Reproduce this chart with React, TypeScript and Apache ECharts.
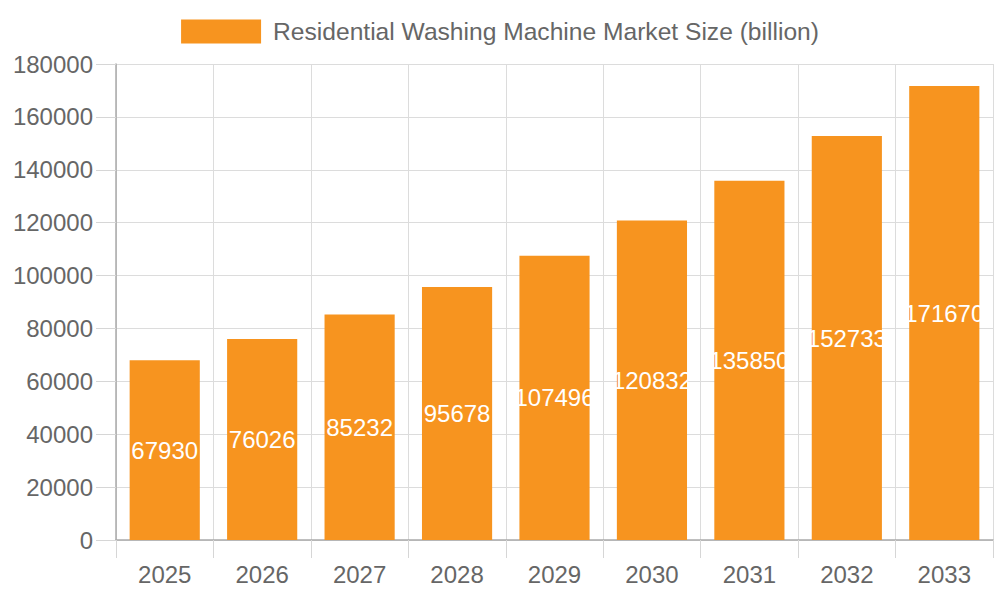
import { useEffect, useRef } from "react";
import * as echarts from "echarts";

const years = ["2025", "2026", "2027", "2028", "2029", "2030", "2031", "2032", "2033"];
const marketSize = [67930, 76026, 85232, 95678, 107496, 120832, 135850, 152733, 171670];
const seriesName = "Residential Washing Machine Market Size (billion)";

const font = "'Liberation Sans', Arial, Helvetica, sans-serif";

export default function App() {
  const ref = useRef<HTMLDivElement>(null);

  useEffect(() => {
    if (!ref.current) return;
    const chart = echarts.init(ref.current, undefined, { renderer: "svg" });
    chart.setOption({
      animation: false,
      textStyle: { fontFamily: font },
      legend: {
        data: [seriesName],
        top: 14,
        left: "center",
        icon: "rect",
        itemWidth: 80,
        itemHeight: 24,
        itemGap: 12,
        textStyle: {
          color: "#666",
          fontSize: 24.6,
          fontFamily: font,
          padding: [0, 0, 0, 7],
        },
      },
      grid: { left: 116, right: 7, top: 64, bottom: 60 },
      xAxis: {
        type: "category",
        data: years,
        axisLine: { show: true, lineStyle: { color: "#aaa", width: 1.5 } },
        axisTick: { show: true, length: 18, lineStyle: { color: "#d6d6d6" } },
        splitLine: { show: true, lineStyle: { color: "#dcdcdc" } },
        axisLabel: { color: "#666", fontSize: 24, margin: 22, fontFamily: font },
      },
      yAxis: {
        type: "value",
        min: 0,
        max: 180000,
        interval: 20000,
        axisLine: { show: true, lineStyle: { color: "#aaa", width: 1.5 } },
        axisTick: { show: true, length: 20, lineStyle: { color: "#d6d6d6" } },
        splitLine: { show: true, lineStyle: { color: "#dcdcdc" } },
        axisLabel: {
          color: "#666",
          fontSize: 24,
          margin: 23,
          fontFamily: font,
          formatter: (v: number) => String(v),
        },
      },
      series: [
        {
          name: seriesName,
          type: "bar",
          data: marketSize,
          barCategoryGap: "28%",
          itemStyle: { color: "#F7941F" },
          label: {
            show: true,
            position: "inside",
            color: "#fff",
            fontSize: 24,
            fontFamily: font,
          },
        },
      ],
    });
    return () => chart.dispose();
  }, []);

  return (
    <div
      ref={ref}
      style={{ position: "absolute", left: 0, top: 0, width: 1000, height: 600, background: "#fff" }}
    />
  );
}
